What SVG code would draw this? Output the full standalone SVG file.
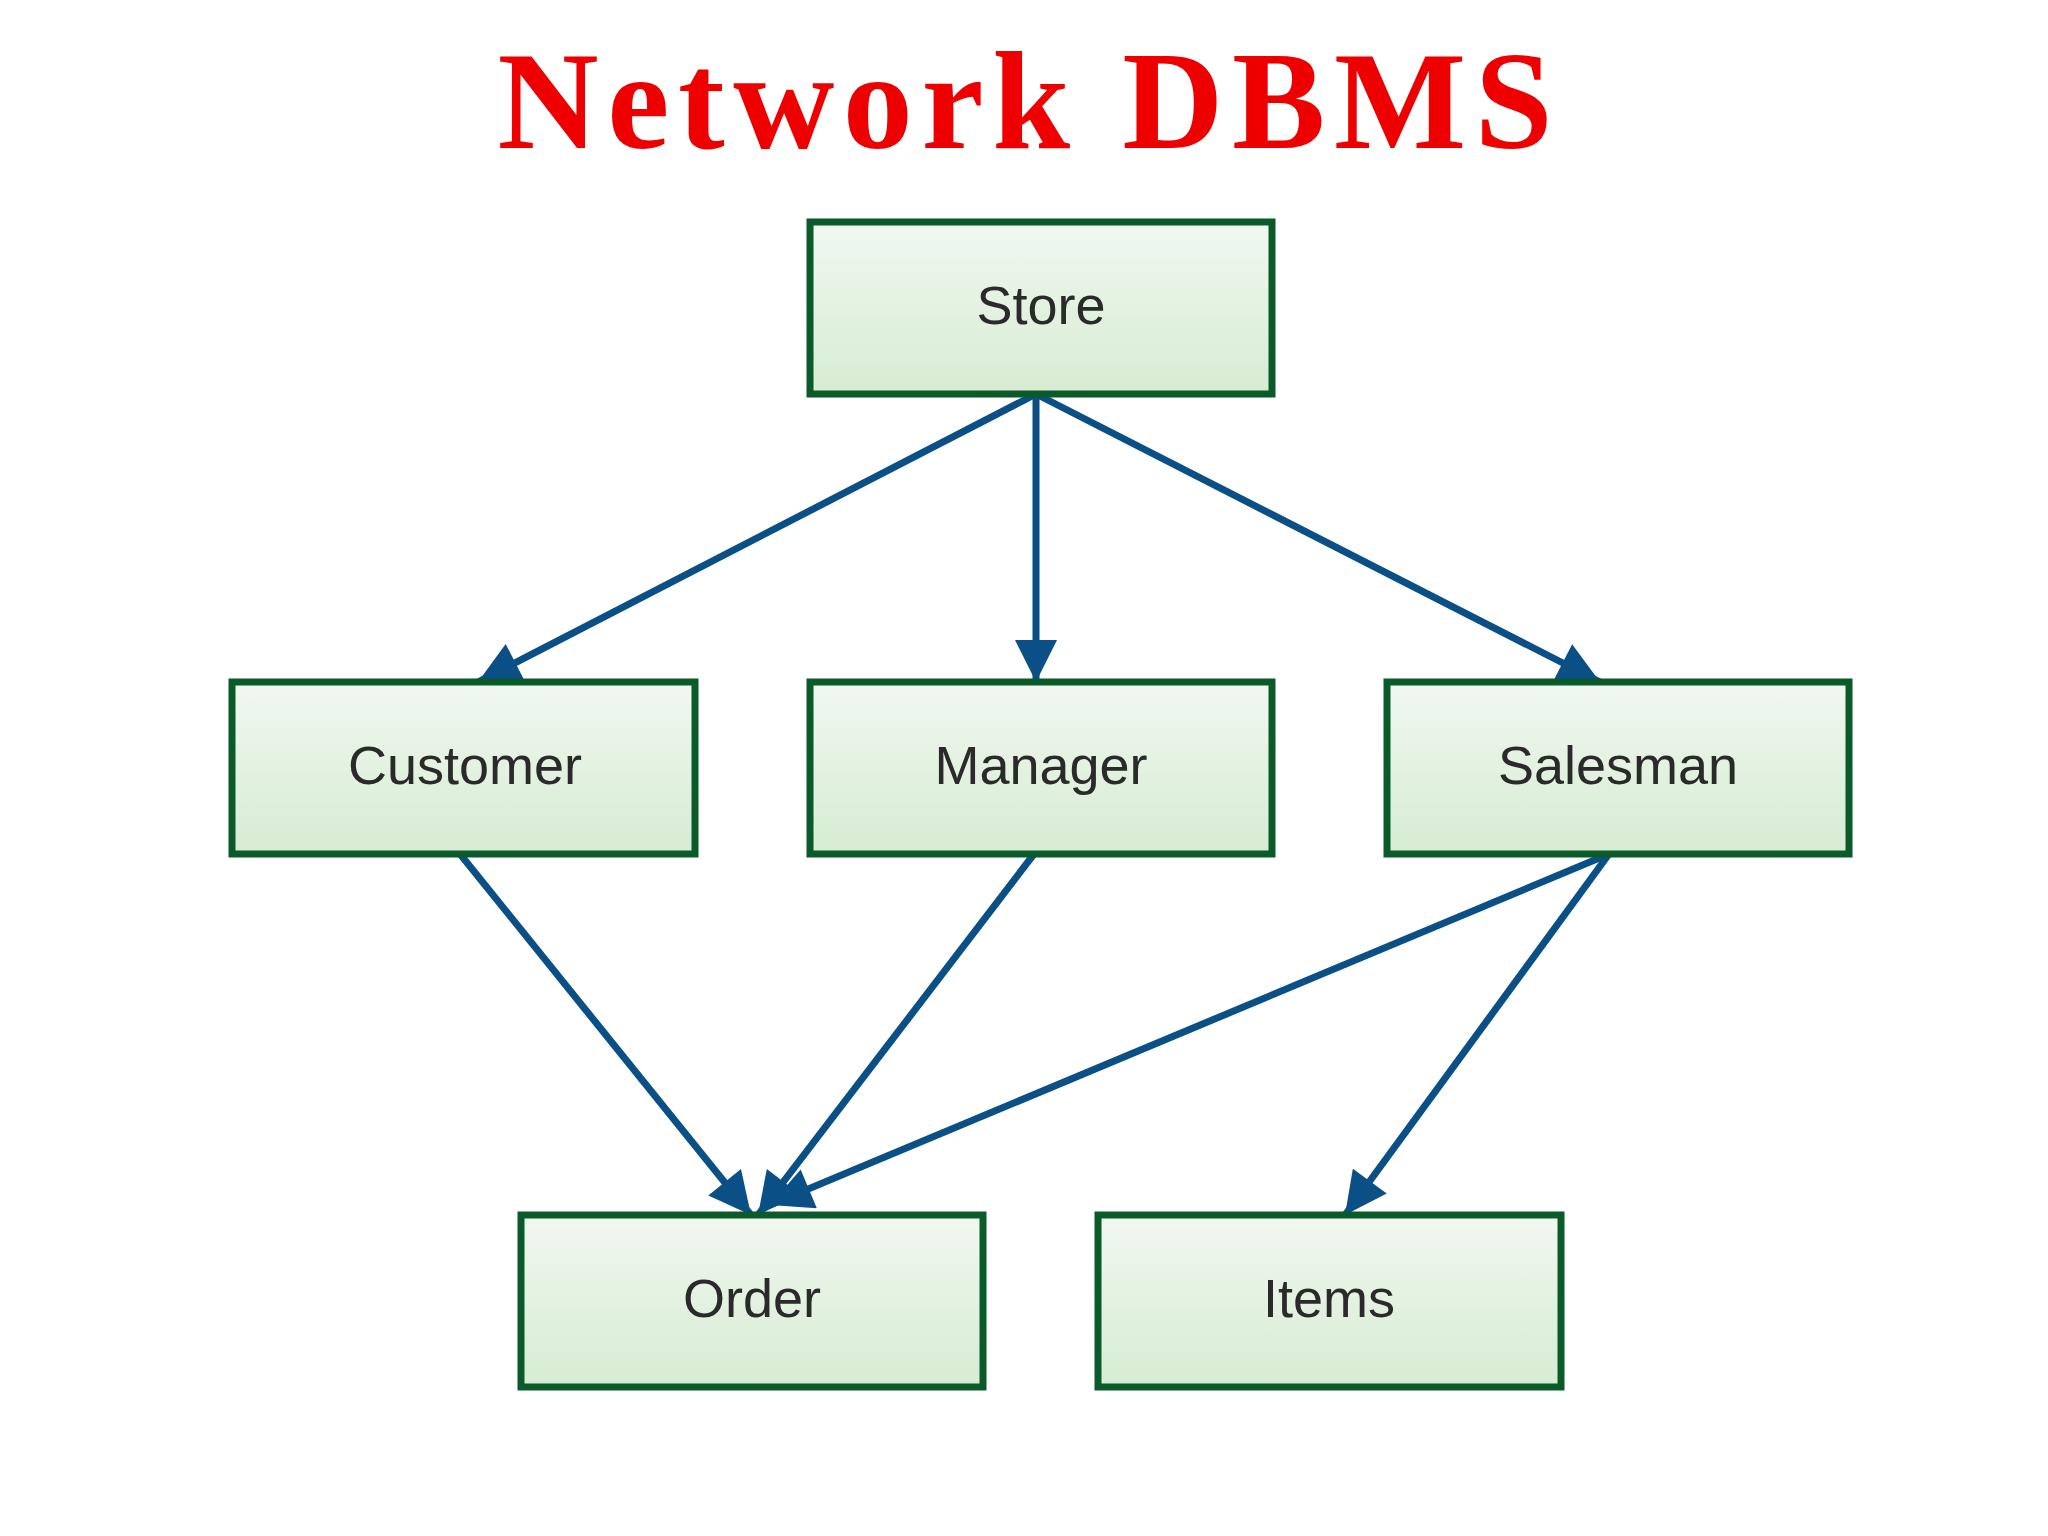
<svg xmlns="http://www.w3.org/2000/svg" width="2048" height="1536" viewBox="0 0 2048 1536">
<style>
.box{fill:url(#g);stroke:#0b5a2a;stroke-width:7}
.lbl{font-family:"Liberation Sans Narrow","Liberation Sans",Arial,sans-serif;font-size:54px;fill:#2a2a2a;text-anchor:middle}
.c{stroke:#0a4f85;stroke-width:7;fill:none;marker-end:url(#a)}
</style>
<defs>
<linearGradient id="g" x1="0" y1="0" x2="0" y2="1"><stop offset="0" stop-color="#f1f8f0"/><stop offset="1" stop-color="#d6ecd2"/></linearGradient>
<marker id="a" viewBox="0 0 10 10" refX="10" refY="5" markerWidth="7" markerHeight="6" markerUnits="strokeWidth" orient="auto"><path d="M0,0L10,5L0,10Z" fill="#0a4f85"/></marker>
</defs>
<rect width="2048" height="1536" fill="#fff"/>
<text x="1025" y="148" font-family="Liberation Serif,serif" font-weight="bold" font-size="140" fill="#ee0000" text-anchor="middle" textLength="1055">Network DBMS</text>
<g id="connectors">
<line class="c" x1="1036" y1="394" x2="478" y2="682"/>
<line class="c" x1="1036" y1="394" x2="1036" y2="682"/>
<line class="c" x1="1036" y1="394" x2="1600" y2="682"/>
<line class="c" x1="460" y1="854" x2="751" y2="1215"/>
<line class="c" x1="1034" y1="854" x2="758" y2="1215"/>
<line class="c" x1="1609" y1="854" x2="770" y2="1205"/>
<line class="c" x1="1609" y1="854" x2="1345" y2="1215"/>
</g>
<g id="store"><rect class="box" x="810" y="222" width="462" height="172"/><text class="lbl" x="1041" y="324">Store</text></g>
<g id="customer"><rect class="box" x="232" y="682" width="463" height="172"/><text class="lbl" x="465" y="784">Customer</text></g>
<g id="manager"><rect class="box" x="810" y="682" width="462" height="172"/><text class="lbl" x="1041" y="784">Manager</text></g>
<g id="salesman"><rect class="box" x="1387" y="682" width="462" height="172"/><text class="lbl" x="1618" y="784">Salesman</text></g>
<g id="order"><rect class="box" x="521" y="1215" width="462" height="172"/><text class="lbl" x="752" y="1317">Order</text></g>
<g id="items"><rect class="box" x="1098" y="1215" width="463" height="172"/><text class="lbl" x="1329" y="1317">Items</text></g>
</svg>
